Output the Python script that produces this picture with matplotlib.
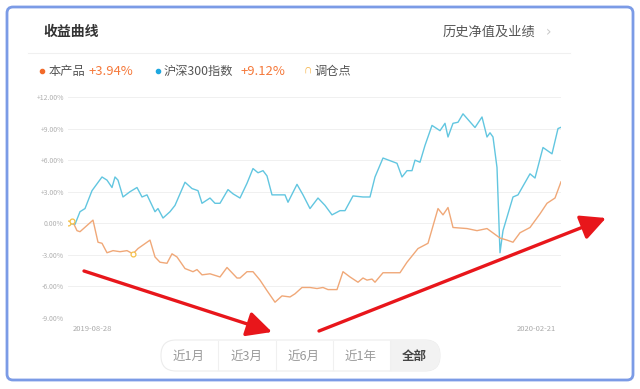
import matplotlib
matplotlib.use("Agg")
import matplotlib.pyplot as plt
from matplotlib.patches import FancyBboxPatch, Rectangle

plt.rcParams['font.family'] = ['Noto Sans CJK SC', 'DejaVu Sans']

# ---- data ----
# trading-day index and return (%) for the fund
t_fund = [0, 1, 2.25, 3, 6.25, 7.5, 8.5, 9.75, 11.25, 13, 14.75, 16.25, 17.5, 20.5,
          21.75, 23, 24.75, 26, 27.25, 29.25, 31.25, 32.25, 33.5, 35.5, 38, 39.75,
          40.5, 42.25, 43, 44.75, 46.25, 48, 49.75, 51.75, 53.5, 55.5, 56.75, 58.5,
          60.5, 62.25, 63.75, 65, 67.25, 68.75, 70.5, 72.5, 73.75, 74.75, 76, 76.75,
          78.75, 81, 83, 84.75, 87.5, 90, 92.5, 93.75, 95, 96.25, 99.75, 102.25,
          104.75, 108, 109.75, 111.25, 113, 115.5, 118, 119.75, 121.75, 123.25]
fund = [0.0, 0.3, -0.7, -0.8, 0.3, -1.8, -1.9, -2.8, -2.6, -2.7, -2.6, -2.9, -2.4, -1.6,
        -3.2, -3.7, -3.8, -2.9, -3.2, -4.3, -4.6, -4.4, -4.9, -4.8, -5.1, -4.2,
        -4.5, -5.2, -5.2, -4.6, -4.6, -5.4, -6.4, -7.5, -6.9, -7.0, -6.7, -6.1,
        -6.1, -6.2, -6.1, -6.3, -6.3, -4.6, -5.1, -5.6, -5.2, -5.4, -5.3, -5.6,
        -4.7, -4.7, -4.7, -3.7, -2.4, -1.9, 1.4, 0.8, 1.5, -0.4, -0.5, -0.7,
        -0.5, -1.4, -1.6, -1.8, -0.9, -0.4, 0.9, 1.9, 2.4, 3.94]

# CSI 300 index
t_index = [0, 1.75, 3, 4.25, 6, 8.5, 9.75, 11, 11.75, 12.5, 13.75, 15.5, 17.25, 18.5,
           19.75, 21.75, 22.5, 23.75, 25.5, 26.75, 29.25, 31, 32.5, 33.5, 35.5, 36.75,
           38, 40, 41.25, 43, 44.75, 46.25, 47.5, 48.75, 49.75, 51, 52.5, 54.25, 55,
           57.25, 58.75, 60.5, 62.5, 64.25, 66, 68, 69.25, 71.25, 73.75, 75.5, 76.75,
           78.75, 82.25, 83.5, 84.75, 86, 86.75, 88, 89.25, 91, 93, 94.25, 95, 96.25,
           97.5, 98.75, 101.75, 103.5, 104.75, 105.5, 106.25, 107.25, 108, 108.75,
           111.25, 112.5, 115.5, 116.75, 118.75, 121, 122.5, 123.25]
index300 = [0.0, -0.1, 1.1, 1.4, 3.1, 4.4, 4.1, 3.4, 4.4, 4.1, 2.5, 3.0, 3.4, 2.5,
            2.7, 1.1, 1.4, 0.5, 1.1, 1.7, 3.9, 3.3, 3.1, 1.9, 2.4, 1.9,
            1.9, 3.2, 2.8, 2.4, 3.8, 5.2, 4.8, 5.0, 4.5, 2.7, 2.7, 2.7, 2.0,
            3.7, 2.7, 1.4, 2.4, 1.7, 0.8, 1.2, 1.2, 2.6, 2.5, 2.5, 4.4,
            6.2, 5.7, 4.4, 5.0, 5.0, 6.0, 5.8, 7.4, 9.3, 8.8, 9.5, 8.2, 9.5,
            9.6, 10.4, 9.1, 10.1, 8.2, 8.6, 8.2, 5.3, -2.8, -0.7,
            2.5, 2.7, 4.7, 4.3, 7.2, 6.6, 9.0, 9.12]

# rebalance points
t_rebal = [0, 1, 16.25]
rebal = [0.0, 0.2, -2.9]

y_ticks = [12, 9, 6, 3, 0, -3, -6, -9]
y_labels = ['+12.00%', '+9.00%', '+6.00%', '+3.00%', '0.00%', '-3.00%', '-6.00%', '-9.00%']
date_labels = ['2019-08-28', '2020-02-21']
buttons = ['近1月', '近3月', '近6月', '近1年', '全部']

# ---- figure ----
W, H = 640, 389
fig = plt.figure(figsize=(6.4, 3.89), dpi=100)

# background layer in pixel coords
bg = fig.add_axes([0, 0, 1, 1])
bg.set_xlim(0, W)
bg.set_ylim(H, 0)
bg.axis('off')

frame = FancyBboxPatch((7, 7), 626, 373, boxstyle='round,pad=0,rounding_size=6',
                       fc='white', ec='#7b9be6', lw=2)
bg.add_patch(frame)

bg.text(43, 32, '收益曲线', fontsize=10, fontweight='bold', color='#333333',
        va='center', ha='left')
bg.text(443, 32, '历史净值及业绩', fontsize=9.5, color='#555555', va='center', ha='left')
bg.text(546, 32, '›', fontsize=10, color='#c8c8c8', va='center', ha='left',
        family=['DejaVu Sans'])
bg.plot([28, 570], [53, 53], color='#f0f0f0', lw=0.8)

# legend row
bg.plot(42, 71, 'o', ms=3, color='#f26a2a')
bg.text(49, 71, '本产品', fontsize=8.8, color='#555555', va='center')
bg.text(89, 71, '+3.94%', fontsize=9.4, color='#f5793b', va='center')
bg.plot(158, 71, 'o', ms=3, color='#1fa8e0')
bg.text(164, 71, '沪深300指数', fontsize=8.8, color='#555555', va='center')
bg.text(241, 71, '+9.12%', fontsize=9.4, color='#f5793b', va='center')
bg.text(308, 70, '∩', fontsize=6, color='#f5b041', va='center', ha='center')
bg.text(314, 71, '调仓点', fontsize=8.8, color='#555555', va='center')

# date labels
bg.text(73, 329, date_labels[0], fontsize=5.5, color='#aaaaaa', va='center', ha='left')
bg.text(556, 329, date_labels[1], fontsize=5.5, color='#aaaaaa', va='center', ha='right')

# range buttons
pill = FancyBboxPatch((161, 340), 279, 31, boxstyle='round,pad=0,rounding_size=15',
                      fc='white', ec='#ececec', lw=0.8)
bg.add_patch(pill)
sel = Rectangle((390, 340), 50, 31, fc='#f2f2f2', ec='none')
bg.add_patch(sel)
sel.set_clip_path(pill)
for xd in [218, 276, 333, 390]:
    bg.plot([xd, xd], [341, 370], color='#f0f0f0', lw=0.8)
for i, (lab, xc) in enumerate(zip(buttons, [189, 247, 304, 361, 414])):
    last = i == len(buttons) - 1
    bg.text(xc, 356, lab, fontsize=9, color='#444444' if last else '#999999',
            fontweight='bold' if last else 'normal', ha='center', va='center')

# ---- chart ----
ax = fig.add_axes([68 / W, 1 - 318 / H, 493 / W, 221 / H])
ax.set_facecolor('none')
ax.plot(t_index, index300, color='#62c6e0', lw=1.0, zorder=3)
ax.plot(t_fund, fund, color='#f0a878', lw=1.0, zorder=3)
ax.plot(t_rebal, rebal, 'o', ms=3.5, mfc='white', mec='#f5c04a', mew=0.9, zorder=4)
ax.set_xlim(0, 123.25)
ax.set_ylim(-9, 12)
ax.set_yticks(y_ticks)
ax.set_yticklabels(y_labels)
ax.set_xticks([])
ax.tick_params(axis='y', length=0, pad=3, labelsize=5, labelcolor='#b0b0b0')
ax.grid(axis='y', color='#f0f0f0', lw=0.7)
ax.set_axisbelow(True)
for s in ax.spines.values():
    s.set_visible(False)

# ---- red arrows on top ----
top = fig.add_axes([0, 0, 1, 1])
top.set_xlim(0, W)
top.set_ylim(H, 0)
top.axis('off')
top.set_facecolor('none')
arrow = dict(arrowstyle='-|>,head_length=0.9,head_width=0.45', color='#e8161b',
             lw=2.4, mutation_scale=17, shrinkA=0, shrinkB=0)
top.annotate('', xy=(272, 332), xytext=(84, 271), arrowprops=arrow)
top.annotate('', xy=(606, 218), xytext=(319, 331), arrowprops=arrow)

fig.savefig('out.png', dpi=100)
